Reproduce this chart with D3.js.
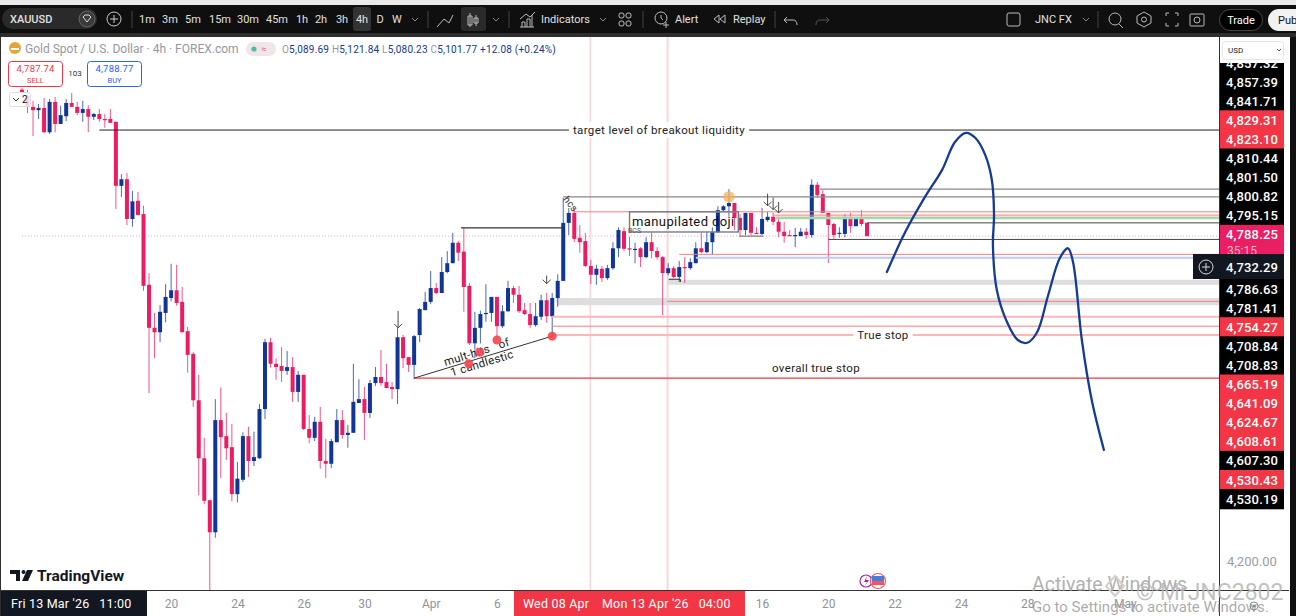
<!DOCTYPE html>
<html>
<head>
<meta charset="utf-8">
<style>
  html, body { margin: 0; padding: 0; background: #fff; overflow: hidden; }
  svg { display: block; font-family: Roboto, sans-serif; }
</style>
<script src="https://cdn.jsdelivr.net/npm/d3@7"></script>
</head>
<body>
<div id="chart"></div>
<script>
// candles, one value per 4h bar
var opens = [
  5053,5042,5022,5016,5020,4976,5031,4991,5005,5029,
  5022,5011,5018,5004,5009,5000,5000,4995,4879,4891,
  4819,4852,4828,4700,4622,4614,4649,4676,4690,4669,
  4616,4575,4491,4386,4310,4252,4455,4426,4406,4321,
  4347,4426,4381,4386,4475,4596,4557,4553,4544,4551,
  4506,4537,4439,4423,4452,4381,4376,4415,4455,4428,
  4432,4486,4493,4468,4522,4533,4524,4515,4511,4605,
  4569,4555,4609,4654,4669,4694,4685,4723,4739,4776,
  4760,4698,4594,4622,4647,4649,4678,4625,4652,4694,
  4682,4654,4647,4627,4642,4672,4643,4676,4707,4812,
  4830,4785,4779,4734,4718,4729,4712,4730,4766,4797,
  4766,4763,4766,4750,4777,4761,4750,4721,4730,4714,
  4732,4730,4739,4766,4759,4777,4795,4835,4842,4848,
  4821,4799,4830,4794,4792,4817,4823,4814,4796,4790,
  4788,4788,4796,4790,4881,4864,4830,4810,4792,4792,
  4819,4806,4821,4812];
var highs = [
  5056,5053,5033,5027,5038,5036,5040,5024,5036,5047,
  5031,5033,5025,5011,5018,5009,5018,4995,4900,4902,
  4870,4868,4843,4721,4649,4663,4701,4738,4736,4696,
  4624,4578,4537,4423,4310,4493,4514,4468,4448,4379,
  4433,4443,4434,4484,4602,4604,4567,4587,4580,4569,
  4544,4537,4464,4461,4479,4421,4421,4475,4473,4446,
  4557,4529,4515,4528,4551,4582,4557,4524,4622,4609,
  4569,4609,4658,4687,4725,4703,4750,4761,4794,4779,
  4803,4703,4651,4653,4701,4678,4678,4663,4707,4698,
  4698,4667,4667,4667,4682,4685,4685,4719,4857,4839,
  4839,4808,4794,4745,4736,4734,4736,4777,4804,4804,
  4787,4776,4768,4786,4795,4768,4752,4739,4734,4743,
  4750,4748,4777,4794,4795,4804,4842,4844,4873,4848,
  4828,4830,4830,4804,4839,4832,4830,4823,4814,4799,
  4803,4803,4803,4891,4886,4871,4830,4812,4804,4828,
  4830,4821,4835,4812];
var lows = [
  5043,5011,4969,5000,4975,4973,4976,4991,4996,5022,
  5007,4995,4976,4998,4995,4984,4993,4837,4859,4808,
  4805,4826,4689,4504,4567,4596,4632,4670,4662,4614,
  4541,4479,4319,4303,4144,4242,4350,4383,4308,4306,
  4343,4352,4372,4385,4457,4550,4528,4524,4537,4488,
  4488,4437,4413,4417,4367,4350,4368,4415,4421,4405,
  4432,4486,4419,4459,4517,4517,4513,4493,4484,4549,
  4542,4529,4596,4654,4665,4683,4685,4721,4739,4743,
  4651,4591,4567,4594,4633,4633,4604,4622,4651,4667,
  4649,4645,4622,4624,4636,4631,4605,4660,4707,4790,
  4777,4758,4732,4701,4700,4705,4709,4727,4750,4761,
  4752,4739,4732,4748,4748,4746,4645,4717,4712,4705,
  4703,4727,4739,4757,4757,4754,4795,4833,4823,4799,
  4786,4790,4790,4792,4790,4814,4808,4786,4776,4788,
  4768,4788,4783,4785,4857,4830,4739,4783,4785,4786,
  4794,4806,4806,4788];
var closes = [
  5047,5022,5016,5020,4976,5031,4991,5007,5029,5022,
  5011,5018,5004,5009,5000,4998,4993,4879,4891,4819,
  4851,4826,4698,4622,4614,4651,4678,4690,4667,4614,
  4573,4491,4386,4309,4252,4455,4424,4404,4321,4349,
  4426,4381,4388,4475,4596,4557,4551,4544,4551,4506,
  4537,4439,4423,4452,4381,4376,4417,4455,4428,4432,
  4488,4493,4468,4522,4533,4522,4513,4511,4605,4567,
  4555,4607,4656,4669,4694,4685,4723,4739,4776,4758,
  4696,4594,4622,4647,4649,4678,4625,4652,4694,4682,
  4652,4647,4627,4643,4672,4643,4676,4707,4812,4830,
  4783,4777,4734,4718,4729,4712,4730,4766,4799,4765,
  4765,4765,4750,4777,4761,4750,4721,4730,4714,4732,
  4730,4741,4766,4759,4777,4795,4835,4842,4848,4821,
  4799,4830,4794,4792,4819,4823,4814,4796,4788,4788,
  4790,4796,4790,4881,4862,4830,4808,4790,4794,4819,
  4806,4821,4810,4788];

// date axis, bar number of each label
var dateBars = [27,39,51,62,74,86,134,146,158,170,182,199.7];
var dateLabels = ["20","24","26","30","Apr","6","16","20","22","24","28","May"];

// price tags down the right side
var tagsUpper = ["4,857.32","4,857.39","4,841.71","4,829.31","4,823.10","4,810.44","4,801.50","4,800.82","4,795.15","4,788.25"];
var tagsUpperKind = ["k","k","k","r","r","k","k","k","k","p"];
var tagsLower = ["4,786.63","4,781.41","4,754.27","4,708.84","4,708.83","4,665.19","4,641.09","4,624.67","4,608.61","4,607.30","4,530.43","4,530.19"];
var tagsLowerKind = ["k","k","r","k","k","r","r","r","r","k","r","k"];

var toolbarItems = ["1m","3m","5m","15m","30m","45m","1h","2h","3h","4h","D","W"];
var toolbarItemX = [147,170,193,220,248,277,302,321,342,362,380,397];

// hand drawn forecast, [bar, price]
var forecastBars = [156.6,159.9,163.5,166.6,168.9,170.9,172.6,174.4,175.6,176,175.8,176.5,178.2,180.3,182,183.8,185.8,187.9,189.4,190.3,191.9,193.7,195.9];
var forecastPrices = [4723,4795,4859,4908,4958,4975,4966,4935,4890,4826,4772,4691,4636,4600,4595,4614,4681,4748,4766,4741,4600,4491,4401];

// red dots on the wicks
var dotBars = [80.9, 82.9, 86, 96];
var dotPrices = [4557, 4578, 4600, 4607];

var width = 1296, height = 616;
var axisX = 1219, axisY = 590;

var xScale = d3.scaleLinear().domain([0, 153]).range([22, 867]);
var yScale = d3.scaleLinear().domain([4200, 5000]).range([561, 119]);

var blue = "#0f3597", pink = "#ec1c63", tagRed = "#f23645";

var svg = d3.select("#chart").append("svg")
  .attr("width", width)
  .attr("height", height);

svg.append("defs").append("clipPath").attr("id", "plot")
  .append("rect").attr("x", 0).attr("y", 37).attr("width", axisX).attr("height", axisY - 37);

var plot = svg.append("g").attr("clip-path", "url(#plot)");

function hline(price, fromBar, color, w, dash){
  var l = plot.append("line")
    .attr("x1", xScale(fromBar)).attr("x2", axisX)
    .attr("y1", yScale(price)).attr("y2", yScale(price))
    .attr("stroke", color).attr("stroke-width", w);
  if(dash){ l.attr("stroke-dasharray", dash); }
  return l;
}

function band(price1, price2, fromBar){
  plot.append("rect")
    .attr("x", xScale(fromBar)).attr("width", axisX - xScale(fromBar))
    .attr("y", yScale(price1)).attr("height", yScale(price2) - yScale(price1))
    .attr("fill", "#dedede");
}

function vline(bar, color, w){
  plot.append("line")
    .attr("x1", xScale(bar)).attr("x2", xScale(bar))
    .attr("y1", 37).attr("y2", axisY)
    .attr("stroke", color).attr("stroke-width", w);
}

// session lines and zones behind the candles
vline(102.9, "#fbd5d8", 1.6);
vline(116.9, "#fbd5d8", 2);
hline(4788.25, 0, "#f7a8c4", 1, "1 2");
band(4709, 4700, 116.8);
band(4676, 4663, 96.8);

// candles
var bars = d3.range(opens.length);
plot.selectAll(".wick").data(bars).enter().append("line")
  .attr("class", "wick")
  .attr("x1", function(d){ return xScale(d); })
  .attr("x2", function(d){ return xScale(d); })
  .attr("y1", function(d){ return yScale(highs[d]); })
  .attr("y2", function(d){ return yScale(lows[d]); })
  .attr("stroke", function(d){ return closes[d] >= opens[d] ? blue : pink; })
  .attr("stroke-opacity", 0.75)
  .attr("stroke-width", 1);
plot.selectAll(".body").data(bars).enter().append("rect")
  .attr("class", "body")
  .attr("x", function(d){ return xScale(d) - 2; })
  .attr("width", 4)
  .attr("y", function(d){ return yScale(Math.max(opens[d], closes[d])); })
  .attr("height", function(d){ return Math.max(1.2, Math.abs(yScale(opens[d]) - yScale(closes[d]))); })
  .attr("fill", function(d){ return closes[d] >= opens[d] ? blue : pink; });

// levels drawn on top of the chart
hline(4980, 14, "#222", 1);
hline(4803, 79.5, "#333", 1.2).attr("x2", xScale(98));
hline(4873, 144.5, "#888", 1.2);
hline(4859, 98, "#888", 1.4);
hline(4832, 100, "#f77c80", 1);
hline(4826, 136, "#f77c80", 1);
hline(4821, 136.5, "#a5d6a7", 2.6);
hline(4812, 153, "#444", 1);
hline(4782, 146, "#444", 1);
hline(4755, 119, "#f77c80", 1);
hline(4749, 122, "#b9cdf3", 2);
hline(4670, 116.8, "#f77c80", 1);
hline(4642, 96, "#ffb6b9", 2);
hline(4625, 96, "#f77c80", 1);
hline(4609, 96, "#ffb6b9", 2);
hline(4531, 71, tagRed, 1.1);

// small brackets
plot.append("path")
  .attr("d", "M" + xScale(117.1) + "," + yScale(4710) + "H" + xScale(119.2) + "V" + yScale(4705))
  .attr("fill", "none").attr("stroke", "#222").attr("stroke-width", 1);
plot.append("line")
  .attr("x1", xScale(130)).attr("x2", xScale(134.2))
  .attr("y1", yScale(4788)).attr("y2", yScale(4788))
  .attr("stroke", "#777").attr("stroke-width", 1.2);

// trend line under the lows
plot.append("line")
  .attr("x1", xScale(71)).attr("y1", yScale(4531))
  .attr("x2", xScale(96)).attr("y2", yScale(4607))
  .attr("stroke", "#333").attr("stroke-width", 1);

function rotatedText(txt, x, y, angle, size, fill){
  plot.append("text")
    .attr("transform", "translate(" + x + "," + y + ") rotate(" + angle + ")")
    .attr("text-anchor", "middle").attr("font-size", size).attr("letter-spacing", 0.3).attr("fill", fill)
    .text(txt);
}
rotatedText("mult-hits", 468, 359, -17, 11.5, "#222");
rotatedText("of", 505, 347, -17, 11.5, "#222");
rotatedText("1 candlestic", 483, 367, -17, 11.5, "#222");
rotatedText("hcs", 568, 206, 52, 10, "#333");

plot.selectAll(".dot").data(dotBars).enter().append("circle")
  .attr("class", "dot")
  .attr("cx", function(d){ return xScale(d); })
  .attr("cy", function(d, i){ return yScale(dotPrices[i]); })
  .attr("r", 4.5).attr("fill", "#f4444f").attr("fill-opacity", 0.9);

// little down arrows
function arrow(bar, price, len){
  var x = xScale(bar), y = yScale(price);
  plot.append("path")
    .attr("d", "M" + x + "," + (y - len) + "V" + y + "M" + (x - 4) + "," + (y - 4) + "L" + x + "," + y + "L" + (x + 4) + "," + (y - 4))
    .attr("fill", "none").attr("stroke", "#333").attr("stroke-width", 0.9);
}
arrow(68.1, 4622, 17);
arrow(95, 4702, 8);
arrow(135, 4843, 12);
arrow(136, 4836, 12);
arrow(137, 4830, 11);

// doji marker and label box
plot.append("circle").attr("cx", xScale(128)).attr("cy", yScale(4859)).attr("r", 5.7)
  .attr("fill", "#f3b05a").attr("fill-opacity", 0.75);
plot.append("rect")
  .attr("x", xScale(110)).attr("width", xScale(129.7) - xScale(110))
  .attr("y", yScale(4832)).attr("height", yScale(4795.5) - yScale(4832))
  .attr("fill", "none").attr("stroke", "#787b86").attr("stroke-width", 1.4);
plot.append("text").attr("x", 632).attr("y", yScale(4807)).attr("font-size", 13)
  .attr("letter-spacing", 0.4).attr("fill", "#111").text("manupilated doji");
plot.append("text").attr("x", 628).attr("y", yScale(4788) - 3).attr("font-size", 7)
  .attr("fill", "#555").text("BCS");

// forecast scribble
var scribble = d3.line()
  .x(function(d){ return xScale(forecastBars[d]); })
  .y(function(d){ return yScale(forecastPrices[d]); })
  .curve(d3.curveCatmullRom);
plot.append("path")
  .attr("d", scribble(d3.range(forecastBars.length)))
  .attr("fill", "none").attr("stroke", "#143c93").attr("stroke-width", 2.3)
  .attr("stroke-linecap", "round");

// text labels sitting on the lines
function lineLabel(txt, x, y, bg){
  var t = plot.append("text").attr("x", x).attr("y", y + 4)
    .attr("text-anchor", "middle").attr("font-size", 11.5).attr("letter-spacing", 0.35)
    .attr("fill", "#222").text(txt);
  if(bg){
    var b = t.node().getBBox();
    plot.insert("rect", function(){ return t.node(); })
      .attr("x", b.x - 4).attr("y", b.y - 1).attr("width", b.width + 8).attr("height", b.height + 2)
      .attr("fill", "#fff");
  }
}
lineLabel("target level of breakout liquidity", 659, yScale(4980), true);
lineLabel("True stop", 883, yScale(4609), true);
lineLabel("overall true stop", 816, yScale(4531) - 10, false);

// event badges
svg.append("circle").attr("cx", 866).attr("cy", 581).attr("r", 6).attr("fill", "#fff").attr("stroke", "#9c27b0").attr("stroke-width", 1.2);
svg.append("path").attr("d", "M867,576L864,582H867L865,586L869,580H866Z").attr("fill", "#9c27b0");
svg.append("circle").attr("cx", 878).attr("cy", 581).attr("r", 7.5).attr("fill", "#fff").attr("stroke", "#f7525f").attr("stroke-width", 1.2);
svg.append("rect").attr("x", 872).attr("y", 576).attr("width", 12).attr("height", 5).attr("fill", "#3f7fd8");
svg.append("rect").attr("x", 872).attr("y", 581).attr("width", 12).attr("height", 4).attr("fill", "#f7525f");

// legend block at top left
svg.append("circle").attr("cx", 15).attr("cy", 48).attr("r", 6).attr("fill", "#e3a53a");
svg.append("rect").attr("x", 11).attr("y", 48).attr("width", 8).attr("height", 2).attr("fill", "#fff");
svg.append("text").attr("x", 25).attr("y", 53).attr("font-size", 12)
  .attr("fill", "#9598a1").text("Gold Spot / U.S. Dollar · 4h · FOREX.com");
svg.append("rect").attr("x", 246).attr("y", 42).attr("width", 30).attr("height", 14).attr("rx", 7).attr("fill", "#f1e4ea");
svg.append("circle").attr("cx", 254).attr("cy", 49).attr("r", 2.6).attr("fill", "#4dbfa5");
svg.append("text").attr("x", 264).attr("y", 52).attr("text-anchor", "middle").attr("font-size", 9).attr("fill", "#f0608a").text("≈");

var ohlc = svg.append("text").attr("x", 282).attr("y", 52.5).attr("font-size", 10).attr("letter-spacing", 0.22).attr("fill", "#123a8f");
[["O","5,089.69 "],["H","5,121.84 "],["L","5,080.23 "],["C","5,101.77 "]].forEach(function(p){
  ohlc.append("tspan").attr("fill", "#9598a1").text(p[0]);
  ohlc.append("tspan").text(p[1]);
});
ohlc.append("tspan").text("+12.08 (+0.24%)");

function tradeBox(x, color, price, label, labelColor){
  svg.append("rect").attr("x", x + 0.5).attr("y", 61.5).attr("width", 54).attr("height", 25).attr("rx", 3)
    .attr("fill", "#fff").attr("stroke", color);
  svg.append("text").attr("x", x + 27.5).attr("y", 72).attr("text-anchor", "middle").attr("font-size", 9.5)
    .attr("letter-spacing", 0.2).attr("fill", color).text(price);
  svg.append("text").attr("x", x + 27.5).attr("y", 83).attr("text-anchor", "middle").attr("font-size", 7.5)
    .attr("fill", labelColor).text(label);
}
tradeBox(8, "#f23645", "4,787.74", "SELL", "#f23645");
tradeBox(87, "#2962ff", "4,788.77", "BUY", "#2962ff");
svg.append("text").attr("x", 75).attr("y", 76).attr("text-anchor", "middle").attr("font-size", 8).attr("fill", "#333").text("103");

svg.append("rect").attr("x", 9.5).attr("y", 92.5).attr("width", 21).attr("height", 14).attr("rx", 2)
  .attr("fill", "#fff").attr("fill-opacity", 0.8).attr("stroke", "#ddd");
svg.append("path").attr("d", "M13,98L16,101L19,98").attr("fill", "none").attr("stroke", "#333");
svg.append("text").attr("x", 22).attr("y", 103).attr("font-size", 10).attr("fill", "#111").text("2");

// date axis
var dateAxis = d3.axisBottom(xScale)
  .tickValues(dateBars)
  .tickFormat(function(d, i){ return dateLabels[i]; })
  .tickSize(0).tickPadding(9);
var dateG = svg.append("g").attr("transform", "translate(0," + axisY + ")").call(dateAxis);
dateG.select(".domain").remove();
dateG.selectAll("text").attr("font-size", 12).attr("font-family", "Roboto, sans-serif").attr("fill", "#8f939c");

svg.append("line").attr("x1", 0).attr("x2", 1289).attr("y1", axisY + 0.5).attr("y2", axisY + 0.5).attr("stroke", "#333");
svg.append("line").attr("x1", axisX + 0.5).attr("x2", axisX + 0.5).attr("y1", 37).attr("y2", height).attr("stroke", "#333");

// crosshair date labels
svg.append("rect").attr("x", 0).attr("y", axisY + 1).attr("width", 147).attr("height", 25).attr("fill", "#131722");
svg.append("text").attr("x", 11).attr("y", 608).attr("font-size", 12.5).attr("letter-spacing", 0.2).attr("fill", "#fff")
  .attr("xml:space", "preserve").text("Fri 13 Mar '26   11:00");
svg.append("rect").attr("x", 514).attr("y", axisY + 1).attr("width", 231).attr("height", 25).attr("fill", tagRed);
svg.append("text").attr("x", 523).attr("y", 608).attr("font-size", 12.5).attr("letter-spacing", 0.2).attr("fill", "#fff").text("Wed 08 Apr");
svg.append("text").attr("x", 602).attr("y", 608).attr("font-size", 12.5).attr("letter-spacing", 0.2).attr("fill", "#fff")
  .attr("xml:space", "preserve").text("Mon 13 Apr '26   04:00");

// TradingView mark
svg.append("path").attr("d", "M10,570H20V581H16V574H10Z").attr("fill", "#131722");
svg.append("circle").attr("cx", 23.5).attr("cy", 572).attr("r", 2).attr("fill", "#131722");
svg.append("path").attr("d", "M27,570H33L28,581H22Z").attr("fill", "#131722");
svg.append("text").attr("x", 37).attr("y", 580.5).attr("font-size", 15.5).attr("font-weight", 700).attr("fill", "#131722").text("TradingView");

// price scale
function tagColor(kind){
  if(kind == "r"){ return tagRed; }
  if(kind == "p"){ return "#e91e63"; }
  return "#000";
}
function priceTag(txt, kind, y){
  svg.append("rect").attr("x", axisX + 1).attr("y", y - 10).attr("width", 64).attr("height", 20.2).attr("fill", tagColor(kind));
  svg.append("text").attr("x", 1278).attr("y", y + 4.5).attr("text-anchor", "end").attr("font-size", 13)
    .attr("font-weight", 500).attr("letter-spacing", 0.15).attr("fill", "#fff").text(txt);
}
tagsUpper.forEach(function(t, i){ priceTag(t, tagsUpperKind[i], 63 + i * 19.1); });
tagsLower.forEach(function(t, i){ priceTag(t, tagsLowerKind[i], 289 + i * 19.1); });

// the USD box covers the top half of the first tag
svg.append("rect").attr("x", axisX + 1).attr("y", 37).attr("width", 64).attr("height", 26).attr("fill", "#fff");
svg.append("rect").attr("x", 1222.5).attr("y", 41.5).attr("width", 61).attr("height", 18).attr("rx", 3)
  .attr("fill", "#fff").attr("stroke", "#e6e6e6");
svg.append("text").attr("x", 1228).attr("y", 53).attr("font-size", 8).attr("fill", "#222").text("USD");
svg.append("path").attr("d", "M1277,49L1279,51L1281,49").attr("fill", "none").attr("stroke", "#555");

// countdown under the last price tag
svg.append("rect").attr("x", axisX + 1).attr("y", 244).attr("width", 64).attr("height", 11).attr("fill", "#e91e63");
svg.append("text").attr("x", 1227).attr("y", 255).attr("font-size", 12).attr("fill", "#ffb3cb").text("35:15");

// crosshair price tag
svg.append("rect").attr("x", 1193).attr("y", 254).attr("width", 91).attr("height", 25).attr("fill", "#131722");
svg.append("circle").attr("cx", 1206).attr("cy", 267).attr("r", 7).attr("fill", "none").attr("stroke", "#d8d8d8");
svg.append("path").attr("d", "M1202,267H1210M1206,263V271").attr("stroke", "#d8d8d8");
svg.append("text").attr("x", 1278).attr("y", 271.5).attr("text-anchor", "end").attr("font-size", 13)
  .attr("font-weight", 500).attr("letter-spacing", 0.15).attr("fill", "#fff").text("4,732.29");

// plain tick left on the scale
var priceAxis = d3.axisRight(yScale).tickValues([4200]).tickFormat(d3.format(",.2f")).tickSize(0).tickPadding(8);
var priceG = svg.append("g").attr("transform", "translate(" + axisX + ",0)").call(priceAxis);
priceG.select(".domain").remove();
priceG.selectAll("text").attr("font-size", 13).attr("font-family", "Roboto, sans-serif").attr("fill", "#9a9da6");

// toolbar
svg.append("rect").attr("x", 0).attr("y", 0).attr("width", width).attr("height", 5).attr("fill", "#e9e9e9");
svg.append("rect").attr("x", 0).attr("y", 5).attr("width", width).attr("height", 32).attr("fill", "#0f0f0f");
svg.append("rect").attr("x", 0).attr("y", 33).attr("width", width).attr("height", 4).attr("fill", "#2e2e2e");
svg.append("rect").attr("x", 0).attr("y", 37).attr("width", 1).attr("height", height).attr("fill", "#2e2e2e");

var toolbar = svg.append("g").attr("font-size", 11).attr("fill", "#e0e0e0");
toolbar.append("rect").attr("x", 2).attr("y", 8).attr("width", 95).attr("height", 21).attr("rx", 10.5).attr("fill", "#2a2a2a");
toolbar.append("text").attr("x", 10).attr("y", 23).attr("font-weight", 500).text("XAUUSD");
toolbar.append("circle").attr("cx", 87).attr("cy", 19).attr("r", 8).attr("fill", "#3a3a3a").attr("stroke", "#666");
toolbar.append("path").attr("d", "M83,17L85,15H89L91,17L87,22Z").attr("fill", "none").attr("stroke", "#ddd");
toolbar.append("circle").attr("cx", 114).attr("cy", 19).attr("r", 7).attr("fill", "none").attr("stroke", "#ccc");
toolbar.append("path").attr("d", "M110,19H118M114,15V23").attr("stroke", "#ccc");
toolbar.append("rect").attr("x", 353).attr("y", 7).attr("width", 18).attr("height", 24).attr("rx", 3).attr("fill", "#333");
toolbar.append("rect").attr("x", 461).attr("y", 7).attr("width", 25).attr("height", 24).attr("rx", 3).attr("fill", "#2a2a2a");

toolbar.selectAll(".interval").data(toolbarItems).enter().append("text")
  .attr("class", "interval")
  .attr("x", function(d, i){ return toolbarItemX[i]; })
  .attr("y", 23).attr("text-anchor", "middle")
  .text(function(d){ return d; });

[132, 428, 509, 643, 775, 1098].forEach(function(x){
  toolbar.append("line").attr("x1", x).attr("x2", x).attr("y1", 11).attr("y2", 28).attr("stroke", "#444");
});
[415, 496, 603, 1086].forEach(function(x){
  toolbar.append("path").attr("d", "M" + (x - 3) + ",18L" + x + ",21L" + (x + 3) + ",18").attr("fill", "none").attr("stroke", "#888");
});

var iconStroke = "#bbb";
function icon(d, color){ toolbar.append("path").attr("d", d).attr("fill", "none").attr("stroke", color || iconStroke); }
icon("M437,27L444,19L449,23L453,15");
icon("M470,13V27M468,16H472V25H468ZM476,15V26M474,18H478V23H474Z");
icon("M520,27H534M522,27V22H525V27M527,27V19H530V27M532,27V15M520,19L526,14L530,17L535,12");
[[619,13],[626,13],[619,21],[626,21]].forEach(function(p){
  toolbar.append("rect").attr("x", p[0]).attr("y", p[1]).attr("width", 5).attr("height", 5).attr("rx", 2).attr("fill", "none").attr("stroke", iconStroke);
});
toolbar.append("circle").attr("cx", 661).attr("cy", 18).attr("r", 6).attr("fill", "none").attr("stroke", iconStroke);
icon("M661,15V18L663,20M663,25H669M666,22V28");
icon("M719,15L714,19L719,23ZM725,15L720,19L725,23Z");
icon("M787,17L784,20L787,23M784,20H793Q797,20 797,25");
icon("M826,17L829,20L826,23M829,20H820Q816,20 816,25", "#555");
toolbar.append("rect").attr("x", 1007).attr("y", 13).attr("width", 13).attr("height", 13).attr("rx", 2).attr("fill", "none").attr("stroke", iconStroke);
toolbar.append("circle").attr("cx", 1115).attr("cy", 19).attr("r", 6).attr("fill", "none").attr("stroke", iconStroke);
icon("M1119,24L1123,28");
icon("M1144,12L1151,16V23L1144,27L1137,23V16Z");
toolbar.append("circle").attr("cx", 1144).attr("cy", 19.5).attr("r", 2.5).attr("fill", "none").attr("stroke", iconStroke);
icon("M1166,16V13H1169M1175,13H1178V16M1178,23V26H1175M1169,26H1166V23");
toolbar.append("rect").attr("x", 1190).attr("y", 14).attr("width", 14).attr("height", 12).attr("rx", 1).attr("fill", "none").attr("stroke", iconStroke);
toolbar.append("circle").attr("cx", 1197).attr("cy", 20).attr("r", 3).attr("fill", "none").attr("stroke", iconStroke);

toolbar.append("text").attr("x", 541).attr("y", 23).text("Indicators");
toolbar.append("text").attr("x", 675).attr("y", 23).text("Alert");
toolbar.append("text").attr("x", 733).attr("y", 23).text("Replay");
toolbar.append("text").attr("x", 1035).attr("y", 23).text("JNC FX");

toolbar.append("rect").attr("x", 1219.5).attr("y", 9.5).attr("width", 43).attr("height", 21).attr("rx", 10.5).attr("fill", "#000").attr("stroke", "#444");
toolbar.append("text").attr("x", 1241).attr("y", 24).attr("text-anchor", "middle").attr("fill", "#fff").text("Trade");
toolbar.append("rect").attr("x", 1268).attr("y", 9).attr("width", 40).attr("height", 22).attr("rx", 11).attr("fill", "#f2f2f2");
toolbar.append("text").attr("x", 1278).attr("y", 24).attr("fill", "#111").text("Pub");
svg.append("rect").attr("x", 1290).attr("y", 37).attr("width", 6).attr("height", height).attr("fill", "#111");

// screenshot overlays
var marks = svg.append("g").attr("fill", "#9c9c9c");
marks.append("text").attr("x", 1032).attr("y", 591).attr("font-size", 19.5).attr("fill-opacity", 0.8).text("Activate Windows");
marks.append("text").attr("x", 1032).attr("y", 612).attr("font-size", 15).attr("fill-opacity", 0.85).text("Go to Settings to activate Windows.");
marks.append("text").attr("x", 1136).attr("y", 600).attr("font-size", 23).attr("fill", "#b5b5b5").attr("fill-opacity", 0.85).text("© MrJNC2802");
marks.append("path").attr("d", "M1115,576L1124,586L1115,596L1106,586Z").attr("fill", "none").attr("stroke", "#cfcfcf").attr("stroke-width", 2);
marks.append("circle").attr("cx", 1254).attr("cy", 606).attr("r", 4).attr("fill", "none").attr("stroke", "#888");
marks.append("circle").attr("cx", 1254).attr("cy", 606).attr("r", 1.5).attr("fill", "#888");
</script>
</body>
</html>
